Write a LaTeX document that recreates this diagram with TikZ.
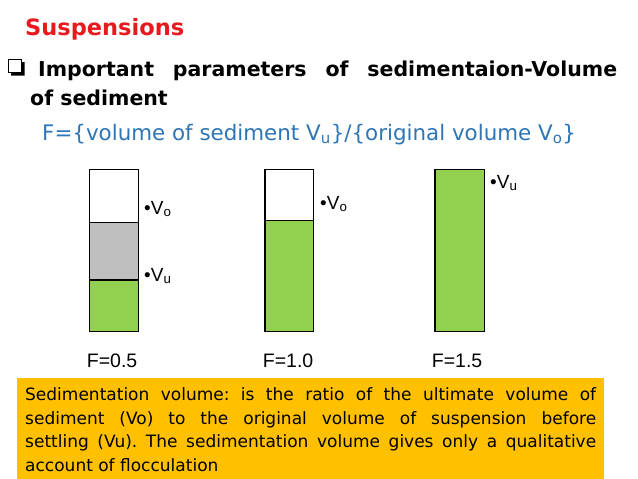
\documentclass[tikz,border=0pt]{standalone}
\usepackage{fontspec}
\setmainfont{DejaVu Sans}
\newfontfamily\figfont{Liberation Sans}
\definecolor{Titlecol}{HTML}{E8191E}
\definecolor{Formcol}{HTML}{2E75B6}
\definecolor{Sedcol}{HTML}{92D050}
\definecolor{Suspcol}{HTML}{BFBFBF}
\definecolor{Notecol}{HTML}{FFC000}
\def\tubetop{169.3}
\def\tubebot{331.7}
\frenchspacing

\begin{document}
\begin{tikzpicture}[x=1pt, y=-1pt,
  tube/.style={line width=1.4pt},
  vlabel/.style={anchor=base west, inner sep=0pt, font=\figfont\fontsize{19}{19}\selectfont},
  flabel/.style={anchor=base west, inner sep=0pt, font=\figfont\fontsize{19.5}{19.5}\selectfont}]
  \useasboundingbox (0,0) rectangle (638,479);

  \node[anchor=base west, inner sep=0pt, text=Titlecol, font=\bfseries\fontsize{22.5}{22.5}\selectfont] (title) at (25,35) {Suspensions};

  % square bullet with its shadow
  \fill (21.5,62) -- (24.5,62) -- (24.5,75.5) -- (11,75.5) -- (11,72.5) -- (21.5,72.5) -- cycle;
  \draw[line width=1pt] (8.5,59.5) rectangle (21.5,72.5);

  \node[anchor=base west, inner sep=0pt, font=\bfseries\fontsize{20.5}{20.5}\selectfont] (head) at (38,76)
    {\makebox[579pt][s]{Important parameters of sedimentaion-Volume}};
  \node[anchor=base west, inner sep=0pt, font=\bfseries\fontsize{20.5}{20.5}\selectfont] (headb) at (30,105) {of sediment};

  \node[anchor=base west, inner sep=0pt, text=Formcol, font=\fontsize{21.4}{21.4}\selectfont] (ratio) at (42,140)
    {F=\{volume of sediment V\textsubscript{u}\}/\{original volume V\textsubscript{o}\}};

  % tube F=0.5
  \fill[Sedcol] (89.3,280) rectangle (138.3,\tubebot);
  \fill[Suspcol] (89.3,222.3) rectangle (138.3,280);
  \draw[tube] (89.3,222.3) -- (138.3,222.3);
  \draw[tube] (89.3,280) -- (138.3,280);
  \draw[tube] (89.3,\tubetop) rectangle (138.3,\tubebot);

  % tube F=1.0
  \fill[Sedcol] (265,220.7) rectangle (313.3,\tubebot);
  \draw[tube] (265,220.7) -- (313.3,220.7);
  \draw[tube] (265,\tubetop) rectangle (313.3,\tubebot);

  % tube F=1.5
  \fill[Sedcol] (435,\tubetop) rectangle (484.3,\tubebot);
  \draw[tube] (435,\tubetop) rectangle (484.3,\tubebot);

  \node[vlabel] (vo1) at (144,214) {\textbullet V\textsubscript{o}};
  \node[vlabel] (vu1) at (144,281) {\textbullet V\textsubscript{u}};
  \node[vlabel] (vo2) at (320,209) {\textbullet V\textsubscript{o}};
  \node[vlabel] (vu3) at (490,188) {\textbullet V\textsubscript{u}};

  \node[flabel] (f1) at (86.7,367) {F=0.5};
  \node[flabel] (f2) at (262.7,367) {F=1.0};
  \node[flabel] (f3) at (431.7,367) {F=1.5};

  \node[anchor=north west, fill=Notecol, inner xsep=8pt, inner ysep=9.8pt, text width=571pt, align=justify,
    font=\fontsize{17}{23.5}\selectfont] (note) at (17,378)
    {Sedimentation volume: is the ratio of the ultimate volume of\linebreak
     sediment (Vo) to the original volume of suspension before\linebreak
     settling (Vu). The sedimentation volume gives only a qualitative\linebreak
     account of flocculation};
\end{tikzpicture}
\end{document}
